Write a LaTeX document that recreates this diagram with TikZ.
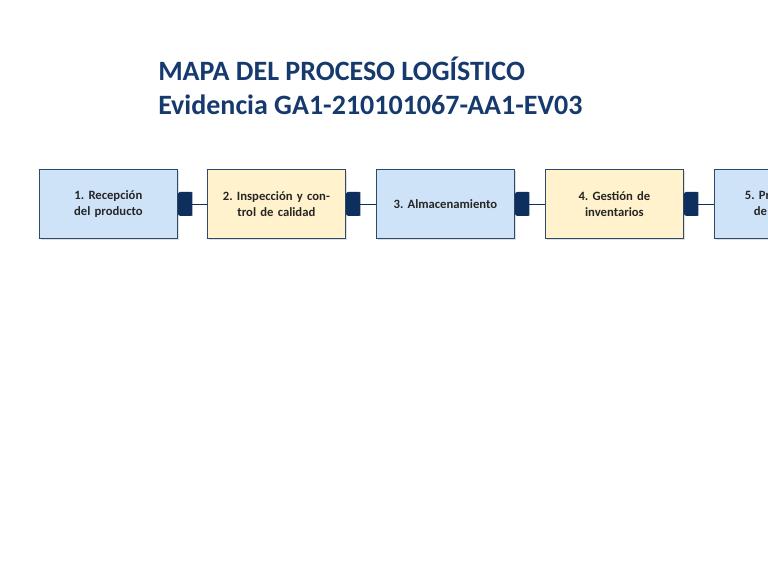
\documentclass[tikz,border=0pt]{standalone}
\usetikzlibrary{shadows}
\usepackage{fontspec}
\setmainfont{Carlito}
\definecolor{navy}{HTML}{163A6E}
\definecolor{tabc}{HTML}{0E2E5E}
\definecolor{bblue}{HTML}{CFE3F8}
\definecolor{byel}{HTML}{FFF2CC}
\definecolor{edge}{HTML}{2E4A6A}
\begin{document}
\frenchspacing
\begin{tikzpicture}[x=0.75pt,y=-0.75pt,
  stepbox/.style={draw=edge,line width=0.6pt,minimum width=103.5pt,minimum height=51.75pt,align=center,font=\fontsize{9.5}{12}\selectfont\bfseries\frenchspacing,text=black!85,anchor=north west,inner sep=1pt,text width=100pt,
    drop shadow={shadow xshift=1pt,shadow yshift=-1pt,opacity=0.25}},
  tab/.style={fill=tabc,rounded corners=2pt},
  link/.style={draw=tabc,line width=0.6pt},
  ttl/.style={anchor=west,font=\fontsize{21}{25}\selectfont\bfseries,text=navy,inner sep=0}]
\useasboundingbox (0,0) rectangle (768,576);
\node[ttl] (t1) at (158,69) {MAPA DEL PROCESO LOGÍSTICO};
\node[ttl] (t2) at (158,105) {Evidencia GA1-210101067-AA1-EV03};
\node[stepbox,fill=bblue] (b1) at (39,169) {1. Recepción del producto};
\node[stepbox,fill=byel] (b2) at (207,169) {2. Inspección y control de calidad};
\node[stepbox,fill=bblue] (b3) at (376,169) {3. Almacenamiento};
\node[stepbox,fill=byel] (b4) at (545,169) {4. Gestión de inventarios};
\node[stepbox,fill=bblue] (b5) at (714,169) {5. Preparación de pedidos};
\foreach \a/\b in {b1/b2,b2/b3,b3/b4,b4/b5}{
  \draw[link] (\a.east) -- (\b.west);
  \fill[tab] ([yshift=9pt]\a.east) -- ++(8pt,0) .. controls +(2pt,0) and +(0,1pt) .. ++(3pt,-2pt) -- ++(0,-14pt) .. controls +(0,-1pt) and +(2pt,0) .. ++(-3pt,-2pt) -- ++(-8pt,0) -- cycle;
}
\end{tikzpicture}
\end{document}
